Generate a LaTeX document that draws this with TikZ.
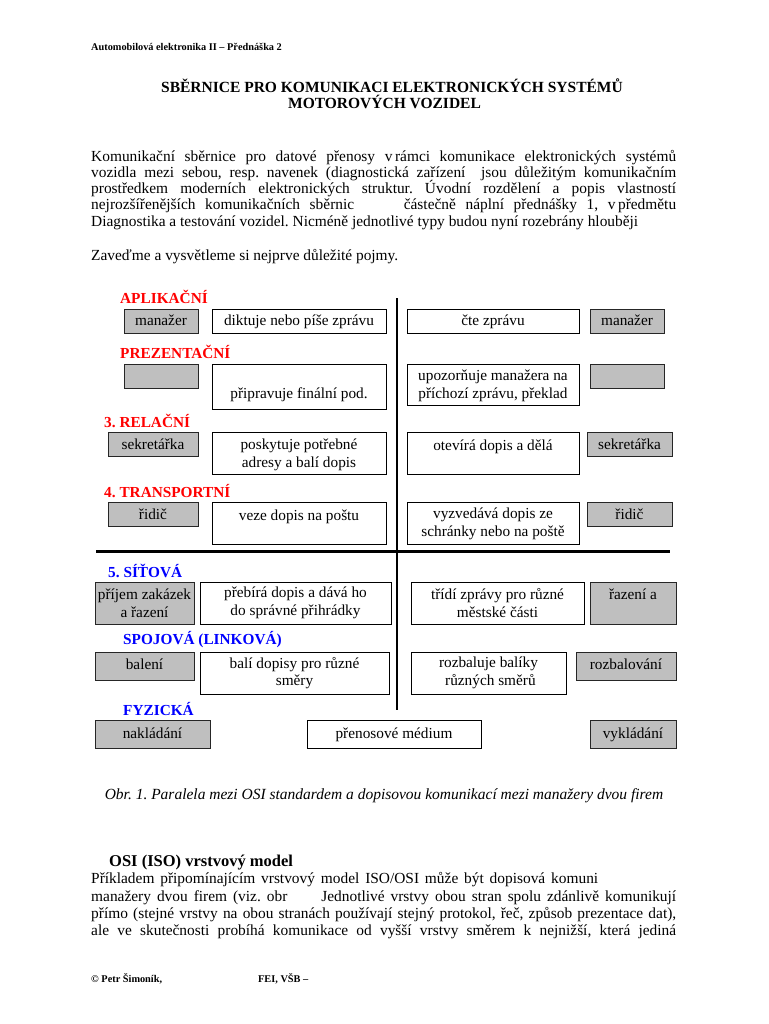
\documentclass[tikz,border=0pt]{standalone}
\usepackage{fontspec}
\setmainfont{Liberation Serif}
\frenchspacing
\newcommand\bx[6]{\node[#1, minimum width={#4-#2}, minimum height={#5-#3}] (#6) at ({(#2+#4)/2},{(#3+#5)/2}) {};}
\newcommand\jline[1]{\makebox[585pt][s]{#1}}
\begin{document}
\frenchspacing
\begin{tikzpicture}[x=1pt,y=-1pt,
  gbox/.style={draw=black!85, fill=gray!50, line width=0.9pt, inner sep=0pt},
  wbox/.style={draw=black, fill=white, line width=0.8pt, inner sep=0pt},
  lbl/.style={font=\fontsize{15.3}{17.5}\selectfont, align=center, inner sep=0pt},
  lbs/.style={font=\fontsize{15.3}{17.5}\selectfont, inner sep=0pt, text height=11pt, text depth=3pt},
  layr/.style={text=red, font=\bfseries\fontsize{15.3}{17}\selectfont, anchor=west, inner sep=0pt},
  layb/.style={text=blue, font=\bfseries\fontsize{15.3}{17}\selectfont, anchor=west, inner sep=0pt},
  body/.style={font=\fontsize{15.4}{17}\selectfont, anchor=base west, inner sep=0pt},
  ttl/.style={font=\bfseries\fontsize{15.5}{17}\selectfont, anchor=base, inner sep=0pt},
  small/.style={font=\bfseries\fontsize{10.3}{12}\selectfont, anchor=base west, inner sep=0pt}]
\useasboundingbox (0,0) rectangle (768,1024);
\fill[white] (0,0) rectangle (768,1024);
% header
\node[small] (hdr) at (91,51) {Automobilová elektronika II – Přednáška 2};
\node[ttl] (t1) at (392,93) {SBĚRNICE PRO KOMUNIKACI ELEKTRONICKÝCH SYSTÉMŮ};
\node[ttl] (t2) at (384.5,109) {MOTOROVÝCH VOZIDEL};
% paragraph
\node[body] (p1) at (91,162) {\jline{Komunikační sběrnice pro datové přenosy v\,rámci komunikace elektronických systémů}};
\node[body] (p2) at (91,178) {\jline{vozidla mezi sebou, resp. navenek (diagnostická zařízení\ \ jsou důležitým komunikačním}};
\node[body] (p3) at (91,194) {\jline{prostředkem moderních elektronických struktur. Úvodní rozdělení a popis vlastností}};
\node[body] (p4) at (91,210) {\jline{nejrozšířenějších komunikačních sběrnic\hspace{40pt} částečně náplní přednášky 1, v\,předmětu}};
\node[body] (p5) at (91,226) {Diagnostika a testování vozidel. Nicméně jednotlivé typy budou nyní rozebrány hlouběji};
\node[body] (p6) at (91,260) {Zaveďme a vysvětleme si nejprve důležité pojmy.};
% divider lines
\coordinate (vt) at (397,298);
\coordinate (vb) at (397,710);
\coordinate (hl) at (96,551);
\coordinate (hr) at (670,551);
\draw[line width=2pt] (vt) -- (vb);
\draw[line width=3pt] (hl) -- (hr);
% layer labels
\node[layr] (L1) at (120,297) {APLIKAČNÍ};
\node[layr] (L2) at (120,352) {PREZENTAČNÍ};
\node[layr] (L3) at (104,421) {3. RELAČNÍ};
\node[layr] (L4) at (104,491) {4. TRANSPORTNÍ};
\node[layb] (L5) at (108,571) {5. SÍŤOVÁ};
\node[layb] (L6) at (123,640) {SPOJOVÁ (LINKOVÁ)};
\node[layb] (L7) at (123,709) {FYZICKÁ};
% row 1
\bx{gbox}{124}{309}{198}{333}{g1l}
\bx{wbox}{212}{309}{386}{333}{w1l}
\bx{wbox}{407}{309}{579}{333}{w1r}
\bx{gbox}{590}{309}{664}{333}{g1r}
\node[lbs] (tg1l) at (161,321) {manažer};
\node[lbs] (tw1l) at (299,321) {diktuje nebo píše zprávu};
\node[lbs] (tw1r) at (493,321) {čte zprávu};
\node[lbs] (tg1r) at (627,321) {manažer};
% row 2
\bx{gbox}{124}{364}{198}{388}{g2l}
\bx{wbox}{212}{364}{386}{409}{w2l}
\bx{wbox}{407}{364}{579}{405}{w2r}
\bx{gbox}{590}{364}{664}{388}{g2r}
\node[lbs] (tw2l) at (299,394) {připravuje finální pod.};
\node[lbl] (tw2r) at (493,386) {upozorňuje manažera na\\příchozí zprávu, překlad};
% row 3
\bx{gbox}{108}{432}{198}{456}{g3l}
\bx{wbox}{212}{432}{386}{474}{w3l}
\bx{wbox}{407}{432}{579}{474}{w3r}
\bx{gbox}{587}{432}{672}{456}{g3r}
\node[lbs] (tg3l) at (153,445) {sekretářka};
\node[lbl] (tw3l) at (299,455) {poskytuje potřebné\\adresy a balí dopis};
\node[lbs] (tw3r) at (493,446) {otevírá dopis a dělá};
\node[lbs] (tg3r) at (629.5,445) {sekretářka};
% row 4
\bx{gbox}{108}{502}{198}{526}{g4l}
\bx{wbox}{212}{502}{386}{544}{w4l}
\bx{wbox}{407}{502}{579}{544}{w4r}
\bx{gbox}{587}{502}{672}{526}{g4r}
\node[lbs] (tg4l) at (153,515) {řidič};
\node[lbs] (tw4l) at (299,516) {veze dopis na poštu};
\node[lbl] (tw4r) at (493,524) {vyzvedává dopis ze\\schránky nebo na poště};
\node[lbs] (tg4r) at (629.5,515) {řidič};
% row 5
\bx{gbox}{95}{582}{194}{624}{g5l}
\bx{wbox}{200}{582}{391}{624}{w5l}
\bx{wbox}{411}{582}{584}{624}{w5r}
\bx{gbox}{590}{582}{676}{624}{g5r}
\node[lbl] (tg5l) at (144.5,603) {příjem zakázek\\a řazení};
\node[lbl] (tw5l) at (295.5,603) {přebírá dopis a dává ho\\do správné přihrádky};
\node[lbl] (tw5r) at (497.5,603) {třídí zprávy pro různé\\městské části};
\node[lbs] (tg5r) at (633,595) {řazení a};
% row 6
\bx{gbox}{95}{652}{194}{680}{g6l}
\bx{wbox}{200}{652}{389}{694}{w6l}
\bx{wbox}{411}{652}{566}{694}{w6r}
\bx{gbox}{576}{652}{676}{680}{g6r}
\node[lbs] (tg6l) at (144.5,665) {balení};
\node[lbl] (tw6l) at (294.5,673) {balí dopisy pro různé\\směry};
\node[lbl] (tw6r) at (488.5,673) {rozbaluje balíky\\\ různých směrů};
\node[lbs] (tg6r) at (626,665) {rozbalování};
% row 7
\bx{gbox}{95}{720}{210}{748}{g7l}
\bx{wbox}{307}{720}{481}{748}{w7}
\bx{gbox}{590}{720}{676}{748}{g7r}
\node[lbs] (tg7l) at (152.5,734) {nakládání};
\node[lbs] (tw7) at (394,734) {přenosové médium};
\node[lbs] (tg7r) at (633,734) {vykládání};
% caption
\node[font=\itshape\fontsize{15.5}{17}\selectfont, anchor=base, inner sep=0pt] (cap) at (384,799) {Obr. 1. Paralela mezi OSI standardem a dopisovou komunikací mezi manažery dvou firem};
% section
\node[font=\bfseries\fontsize{16.5}{19}\selectfont, anchor=base west, inner sep=0pt] (sec) at (109,866) {OSI (ISO) vrstvový model};
\node[body] (q1) at (91,883) {\makebox[507pt][s]{Příkladem připomínajícím vrstvový model ISO/OSI může být dopisová komuni}};
\node[body] (q2) at (91,901) {\jline{manažery dvou firem (viz. obr\hspace{28pt} Jednotlivé vrstvy obou stran spolu zdánlivě komunikují}};
\node[body] (q3) at (91,918) {\jline{přímo (stejné vrstvy na obou stranách používají stejný protokol, řeč, způsob prezentace dat),}};
\node[body] (q4) at (91,935) {\jline{ale ve skutečnosti probíhá komunikace od vyšší vrstvy směrem k nejnižší, která jediná}};
% footer
\node[small] (f1) at (91,982) {© Petr Šimoník,};
\node[small] (f2) at (258,982) {FEI, VŠB –};
\end{tikzpicture}
\end{document}
